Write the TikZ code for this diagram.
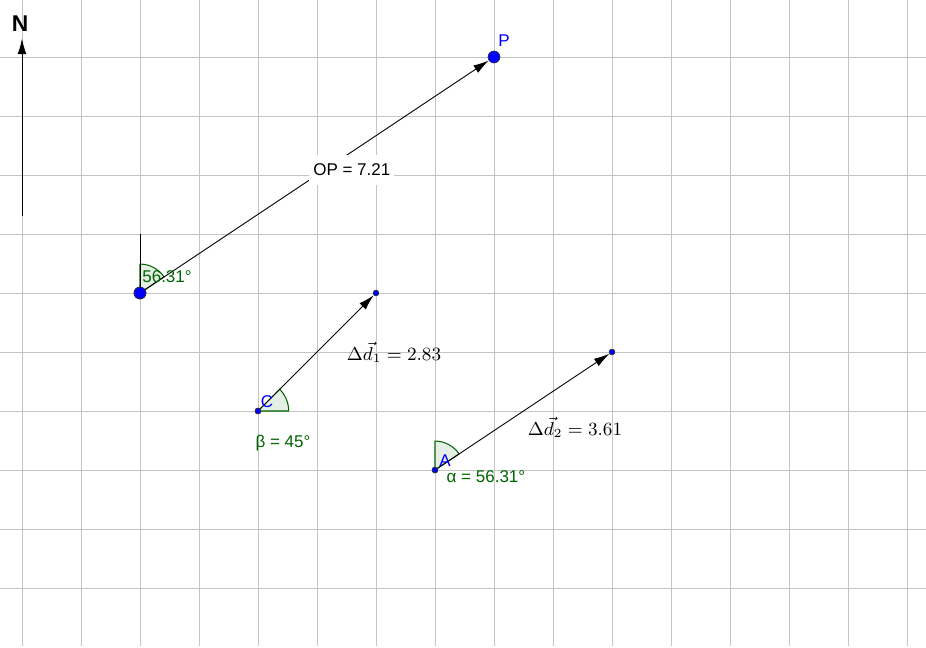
\documentclass[tikz,border=0pt]{standalone}
\usepackage{fontspec}
\newfontfamily\ggbfont{Liberation Sans}
\usetikzlibrary{arrows.meta}
\definecolor{ptblue}{RGB}{0,0,255}
\definecolor{anggreen}{RGB}{0,100,0}
\definecolor{angfill}{RGB}{229,239,229}
\definecolor{gridgray}{RGB}{196,196,196}
\begin{document}
\begin{tikzpicture}[
        gridline/.style={draw=gridgray, line width=0.4pt},
        vec/.style={-{Latex[length=7.5pt,width=4.2pt]}, line width=0.45pt},
        bigpt/.style={circle, fill=ptblue, draw=black!80, line width=0.3pt, inner sep=0pt, minimum size=5.8pt},
        smallpt/.style={circle, fill=ptblue, draw=black!80, line width=0.3pt, inner sep=0pt, minimum size=2.8pt},
        ggbtext/.style={font=\ggbfont\fontsize{8.2}{10}\selectfont, inner sep=0pt},
        anglabel/.style={ggbtext, text=anggreen},
        ptlabel/.style={ggbtext, text=ptblue},
        wedge/.style={draw=anggreen, fill=angfill, line width=0.5pt}
    ]
    \useasboundingbox (-2.373, -6.017) rectangle (13.322, 4.966);
    \draw[gridline] (-2.373, -5.99) grid (13.322, 4.966);

    \node[bigpt] (O) at (0, 0) {};
    \node[bigpt] (P) at (6, 4) {};
    \node[smallpt] (C) at (2, -2) {};
    \node[smallpt] (D1) at (4, 0) {};
    \node[smallpt] (A) at (5, -3) {};
    \node[smallpt] (D2) at (8, -1) {};
    \coordinate (Onorth) at (0, 1);
    \coordinate (Nfoot) at (-2, 1.305);

    \draw[wedge] (O.center) -- ++(90:0.49) arc[start angle=90, end angle=33.69, radius=0.49] -- cycle;
    \draw[wedge] (C.center) -- ++(0:0.52) arc[start angle=0, end angle=45, radius=0.52] -- cycle;
    \draw[wedge] (A.center) -- ++(90:0.49) arc[start angle=90, end angle=33.69, radius=0.49] -- cycle;

    \node[font=\ggbfont\fontsize{11}{13}\selectfont\bfseries, inner sep=3pt] (N) at (-2.034, 4.559) {N};
    \draw[vec] (Nfoot) -- (Nfoot |- N.south);
    \draw[line width=0.4pt] (O.center) -- (Onorth);

    \draw[vec] (O) -- (P);
    \draw[vec] (C) -- (D1);
    \draw[vec] (A) -- (D2);
    \node[bigpt] at (O) {};
    \node[smallpt] at (C) {};
    \node[smallpt] at (A) {};

    \node[ggbtext, fill=white, minimum height=0.5cm, inner xsep=2pt] (OPlabel) at (3.59, 2.085) {OP = 7.21};
    \node[ptlabel] (Plabel) at (6.169, 4.271) {P};
    \node[ptlabel] (Clabel) at (2.153, -1.847) {C};
    \node[ptlabel] (Alabel) at (5.169, -2.847) {A};
    \node[anglabel] (theta) at (0.458, 0.271) {56.31°};
    \node[anglabel] (beta) at (2.424, -2.542) {β = 45°};
    \node[anglabel] (alpha) at (5.864, -3.119) {α = 56.31°};
    \node[font=\fontsize{9}{11}\selectfont] (d1label) at (4.305, -1.0) {$\Delta\vec{d}_1 = 2.83$};
    \node[font=\fontsize{9}{11}\selectfont] (d2label) at (7.373, -2.271) {$\Delta\vec{d}_2 = 3.61$};
\end{tikzpicture}
\end{document}
